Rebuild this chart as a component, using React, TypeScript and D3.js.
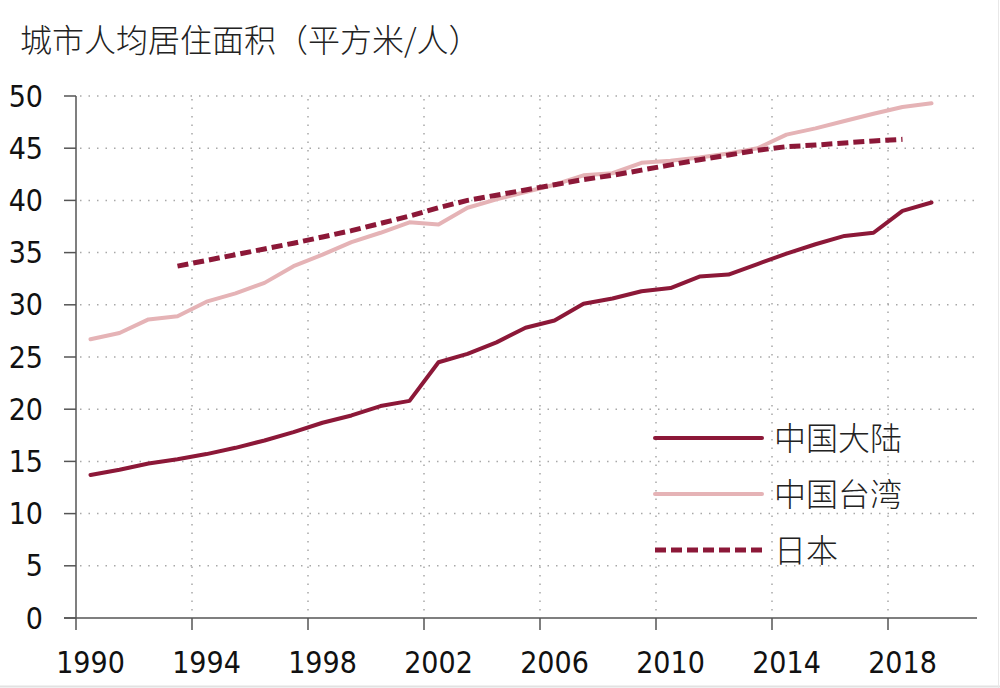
import React from "react";
import * as d3 from "d3";

const years: number[] = d3.range(1990, 2021);
const xTickYears: number[] = [1990, 1994, 1998, 2002, 2006, 2010, 2014, 2018];
const yTicks: number[] = [0, 5, 10, 15, 20, 25, 30, 35, 40, 45, 50];

const mainlandYears: number[] = d3.range(1990, 2020);
const mainland: number[] = [13.7, 14.2, 14.8, 15.2, 15.7, 16.3, 17.0, 17.8, 18.7, 19.4, 20.3, 20.8, 24.5, 25.3, 26.4, 27.8, 28.5, 30.1, 30.6, 31.3, 31.6, 32.7, 32.9, 33.9, 34.9, 35.8, 36.6, 36.9, 39.0, 39.8];

const taiwanYears: number[] = d3.range(1990, 2020);
const taiwan: number[] = [26.7, 27.3, 28.6, 28.9, 30.3, 31.1, 32.1, 33.7, 34.8, 36.0, 36.9, 37.9, 37.7, 39.3, 40.1, 40.8, 41.5, 42.4, 42.6, 43.6, 43.8, 44.1, 44.5, 45.0, 46.3, 46.9, 47.6, 48.3, 48.95, 49.3];

const japanYears: number[] = d3.range(1993, 2019);
const japan: number[] = [33.7, 34.25, 34.8, 35.35, 35.9, 36.5, 37.1, 37.8, 38.5, 39.3, 40.0, 40.5, 41.0, 41.5, 42.0, 42.4, 42.9, 43.4, 43.9, 44.35, 44.8, 45.15, 45.3, 45.5, 45.7, 45.85];

const seriesNames: string[] = ["中国大陆", "中国台湾", "日本"];
const title = "城市人均居住面积（平方米/人）";

const DARK = "#8c1838";
const PINK = "#e5b3b6";

export default function App() {
  const x = d3.scaleBand<number>().domain(years).range([76, 975]).padding(0);
  const bw = x.bandwidth();
  const cx = (yr: number) => (x(yr) as number) + bw / 2;
  const y = d3.scaleLinear().domain([0, 50]).range([618, 96]);

  const mkLine = (ys: number[], vs: number[]) =>
    d3
      .line<number>()
      .x((_, i) => cx(ys[i]))
      .y((v) => y(v))(vs) as string;

  const numFont = "'DejaVu Sans Condensed', 'DejaVu Sans', sans-serif";
  const cjkFont = "'Noto Sans CJK SC', sans-serif";

  const legendItems = [
    { name: seriesNames[0], color: DARK, dash: undefined as string | undefined, w: 4 },
    { name: seriesNames[1], color: PINK, dash: undefined as string | undefined, w: 4 },
    { name: seriesNames[2], color: DARK, dash: "11,5", w: 5 },
  ];

  return (
    <svg
      width={1000}
      height={688}
      style={{ position: "absolute", left: 0, top: 0, background: "#fff" }}
    >
      <rect x={0} y={0} width={1000} height={688} fill="#fff" />
      <line x1={0} x2={1000} y1={686.5} y2={686.5} stroke="#e2e2e2" strokeWidth={2} />
      <line x1={998.5} x2={998.5} y1={0} y2={688} stroke="#e8e8e8" strokeWidth={1} />

      <text x={20} y={52} fontFamily={cjkFont} fontSize={32} fontWeight={300} fill="#222">
        {title}
      </text>

      {/* horizontal grid */}
      {yTicks
        .filter((t) => t > 0)
        .map((t) => (
          <line
            key={"hg" + t}
            x1={80}
            x2={977}
            y1={y(t)}
            y2={y(t)}
            stroke="#a8a8a8"
            strokeWidth={1.5}
            strokeDasharray="1.5,7"
          />
        ))}
      {/* vertical grid */}
      {xTickYears
        .filter((yr) => yr > 1990)
        .map((yr) => (
          <line
            key={"vg" + yr}
            x1={x(yr) as number}
            x2={x(yr) as number}
            y1={99}
            y2={614}
            stroke="#a8a8a8"
            strokeWidth={1.5}
            strokeDasharray="1.5,7"
          />
        ))}

      {/* axes */}
      <line x1={76} x2={76} y1={96} y2={618} stroke="#555" strokeWidth={1.5} />
      <line x1={64} x2={977} y1={618} y2={618} stroke="#555" strokeWidth={1.5} />
      {yTicks.map((t) => (
        <g key={"yt" + t}>
          <line x1={64} x2={76} y1={y(t)} y2={y(t)} stroke="#555" strokeWidth={1.5} />
          <text
            x={43}
            y={y(t)}
            textAnchor="end"
            dominantBaseline="central"
            fontFamily={numFont}
            fontSize={30}
            fill="#111"
          >
            {t}
          </text>
        </g>
      ))}
      {xTickYears.map((yr) => (
        <g key={"xt" + yr}>
          <line
            x1={x(yr) as number}
            x2={x(yr) as number}
            y1={618}
            y2={630}
            stroke="#555"
            strokeWidth={1.5}
          />
          <text
            x={cx(yr)}
            y={673}
            textAnchor="middle"
            fontFamily={numFont}
            fontSize={30}
            fill="#111"
          >
            {yr}
          </text>
        </g>
      ))}

      {/* series */}
      <path d={mkLine(taiwanYears, taiwan)} fill="none" stroke={PINK} strokeWidth={4} strokeLinejoin="round" strokeLinecap="round" />
      <path d={mkLine(japanYears, japan)} fill="none" stroke={DARK} strokeWidth={5} strokeDasharray="11,5" />
      <path d={mkLine(mainlandYears, mainland)} fill="none" stroke={DARK} strokeWidth={4} strokeLinejoin="round" strokeLinecap="round" />

      {/* legend */}
      {legendItems.map((it, i) => {
        const ly = 438 + i * 56;
        return (
          <g key={"lg" + i}>
            <line
              x1={655}
              x2={762}
              y1={ly}
              y2={ly}
              stroke={it.color}
              strokeWidth={it.w}
              strokeDasharray={it.dash}
              strokeLinecap={it.dash ? "butt" : "round"}
            />
            <text x={774} y={ly + 12} fontFamily={cjkFont} fontSize={32} fontWeight={300} fill="#222">
              {it.name}
            </text>
          </g>
        );
      })}
    </svg>
  );
}
